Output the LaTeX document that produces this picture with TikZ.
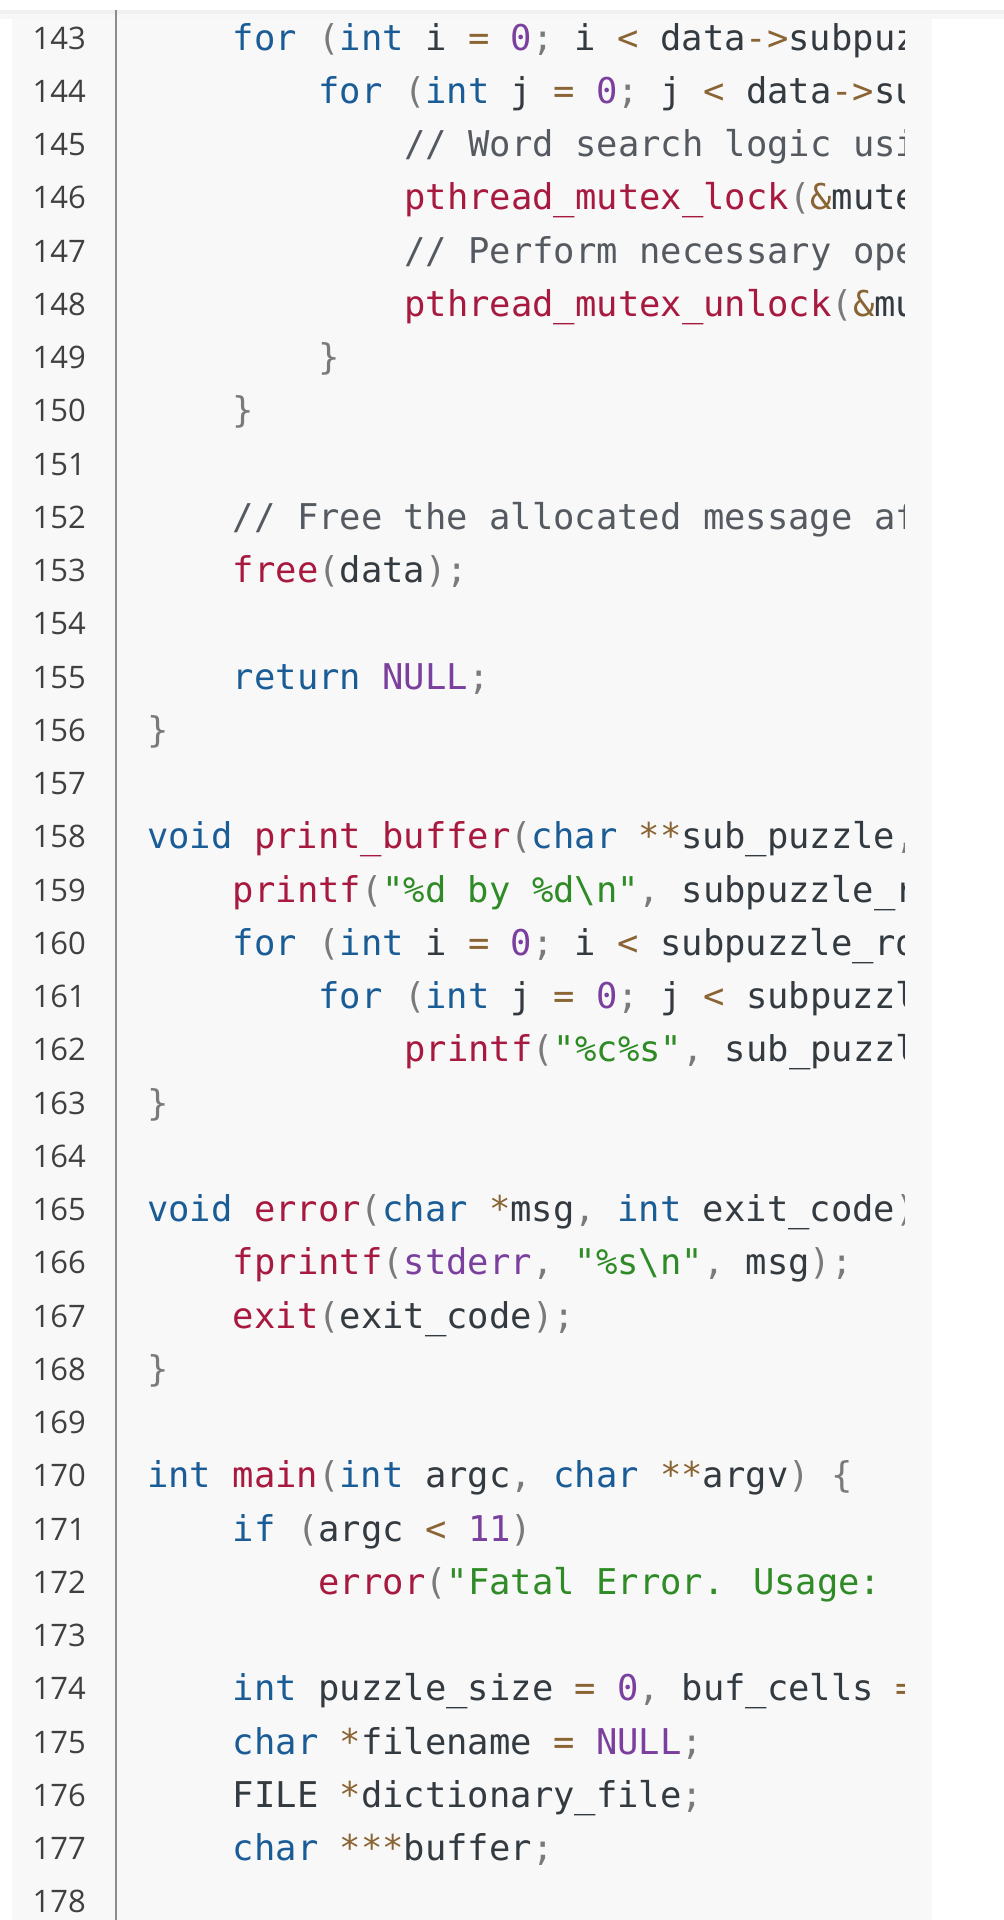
\documentclass[tikz,border=0pt]{standalone}
\usepackage{fontspec}
\newfontfamily\codefont{DejaVu Sans Mono}
\newfontfamily\numfont{Open Sans}
\definecolor{kw}{HTML}{1A5C96}
\definecolor{fn}{HTML}{A8193F}
\definecolor{st}{HTML}{2E8B25}
\definecolor{nu}{HTML}{7B3F9E}
\definecolor{op}{HTML}{8A6433}
\definecolor{pu}{HTML}{7A7A7A}
\definecolor{tx}{HTML}{333A40}
\definecolor{cm}{HTML}{555A60}
\definecolor{panel}{HTML}{F8F8F9}
\newcommand\Kw[1]{\textcolor{kw}{#1}}
\newcommand\Fn[1]{\textcolor{fn}{#1}}
\newcommand\St[1]{\textcolor{st}{#1}}
\newcommand\Nu[1]{\textcolor{nu}{#1}}
\newcommand\Op[1]{\textcolor{op}{#1}}
\newcommand\Pu[1]{\textcolor{pu}{#1}}
\newcommand\Cm[1]{\textcolor{cm}{#1}}
\begin{document}
\begin{tikzpicture}[x=1pt,y=-1pt,
  code/.style={anchor=base west,inner sep=0pt,font=\codefont\fontsize{35.5}{40}\selectfont,text=tx},
  lnum/.style={anchor=base east,inner sep=0pt,font=\numfont\fontsize{31}{36}\selectfont,text=black!75}]
\useasboundingbox (0,0) rectangle (1004,1920);
\fill[white] (0,0) rectangle (1004,1920);
\fill[black!6] (0,10) rectangle (1004,19);
\fill[black!3] (0,14) rectangle (1004,19);
\fill[panel] (12,19) rectangle (932,1920);
\draw[black!45,line width=2pt] (116,10) -- (116,1920);
\def\pitch{53.25}
\foreach \n [count=\k from 0] in {143,...,178}{
  \node[lnum] (n\n) at (86,{38+\k*\pitch+11}) {\n};
}
\begin{scope}
\clip (120,19) rectangle (904,1920);
\newcommand\cl[4]{\node[code] (#1) at ({147+#2*85.7},{38+#3*\pitch+12}) {#4};}
\cl{c143}{1}{0}{\Kw{for} \Pu{(}\Kw{int} i \Op{=} \Nu{0}\Pu{;} i \Op{<} data\Op{->}subpuzzle\_size\Pu{;} i\Op{++}\Pu{)}}
\cl{c144}{2}{1}{\Kw{for} \Pu{(}\Kw{int} j \Op{=} \Nu{0}\Pu{;} j \Op{<} data\Op{->}subpuzzle\_size\Pu{;}}
\cl{c145}{3}{2}{\Cm{// Word search logic using}}
\cl{c146}{3}{3}{\Fn{pthread\_mutex\_lock}\Pu{(}\Op{\&}mutex\Pu{);}}
\cl{c147}{3}{4}{\Cm{// Perform necessary operations}}
\cl{c148}{3}{5}{\Fn{pthread\_mutex\_unlock}\Pu{(}\Op{\&}mutex\Pu{);}}
\cl{c149}{2}{6}{\Pu{\}}}
\cl{c150}{1}{7}{\Pu{\}}}
\cl{c152}{1}{9}{\Cm{// Free the allocated message after use}}
\cl{c153}{1}{10}{\Fn{free}\Pu{(}data\Pu{);}}
\cl{c155}{1}{12}{\Kw{return} \Nu{NULL}\Pu{;}}
\cl{c156}{0}{13}{\Pu{\}}}
\cl{c158}{0}{15}{\Kw{void} \Fn{print\_buffer}\Pu{(}\Kw{char} \Op{**}sub\_puzzle\Pu{,}}
\cl{c159}{1}{16}{\Fn{printf}\Pu{(}\St{"\%d by \%d\textbackslash n"}\Pu{,} subpuzzle\_rows\Pu{,}}
\cl{c160}{1}{17}{\Kw{for} \Pu{(}\Kw{int} i \Op{=} \Nu{0}\Pu{;} i \Op{<} subpuzzle\_rows\Pu{;}}
\cl{c161}{2}{18}{\Kw{for} \Pu{(}\Kw{int} j \Op{=} \Nu{0}\Pu{;} j \Op{<} subpuzzle\_cols\Pu{;}}
\cl{c162}{3}{19}{\Fn{printf}\Pu{(}\St{"\%c\%s"}\Pu{,} sub\_puzzle\Pu{[}i\Pu{]}}
\cl{c163}{0}{20}{\Pu{\}}}
\cl{c165}{0}{22}{\Kw{void} \Fn{error}\Pu{(}\Kw{char} \Op{*}msg\Pu{,} \Kw{int} exit\_code\Pu{)} \Pu{\{}}
\cl{c166}{1}{23}{\Fn{fprintf}\Pu{(}\Nu{stderr}\Pu{,} \St{"\%s\textbackslash n"}\Pu{,} msg\Pu{);}}
\cl{c167}{1}{24}{\Fn{exit}\Pu{(}exit\_code\Pu{);}}
\cl{c168}{0}{25}{\Pu{\}}}
\cl{c170}{0}{27}{\Kw{int} \Fn{main}\Pu{(}\Kw{int} argc\Pu{,} \Kw{char} \Op{**}argv\Pu{)} \Pu{\{}}
\cl{c171}{1}{28}{\Kw{if} \Pu{(}argc \Op{<} \Nu{11}\Pu{)}}
\cl{c172}{2}{29}{\Fn{error}\Pu{(}\St{"Fatal Error. Usage: solve}}
\cl{c174}{1}{31}{\Kw{int} puzzle\_size \Op{=} \Nu{0}\Pu{,} buf\_cells \Op{=} \Nu{0}}
\cl{c175}{1}{32}{\Kw{char} \Op{*}filename \Op{=} \Nu{NULL}\Pu{;}}
\cl{c176}{1}{33}{FILE \Op{*}dictionary\_file\Pu{;}}
\cl{c177}{1}{34}{\Kw{char} \Op{***}buffer\Pu{;}}
\end{scope}
\end{tikzpicture}
\end{document}
